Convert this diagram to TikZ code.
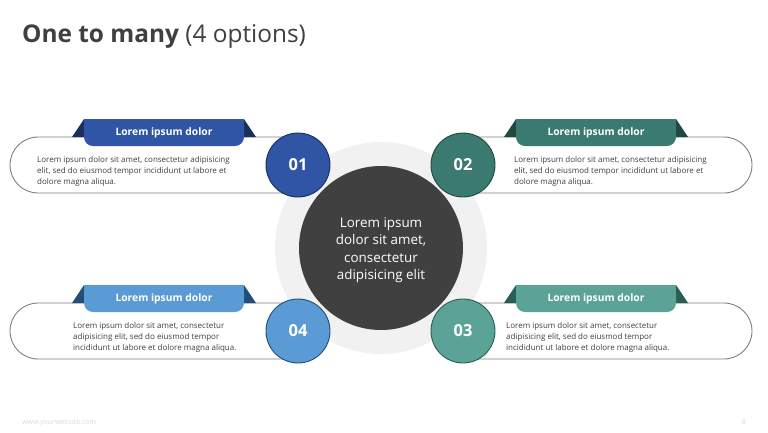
\documentclass[tikz,border=0pt]{standalone}
\usepackage{fontspec}
\setmainfont{Open Sans}
\definecolor{cA}{HTML}{2F55A4}\definecolor{cAd}{HTML}{1B2F5E}
\definecolor{cB}{HTML}{3B7A70}\definecolor{cBd}{HTML}{1F4A42}
\definecolor{cC}{HTML}{5BA397}\definecolor{cCd}{HTML}{275E55}
\definecolor{cD}{HTML}{5B9BD5}\definecolor{cDd}{HTML}{1F4E79}
\definecolor{hubc}{HTML}{404040}
\definecolor{ringc}{HTML}{F1F1F1}
\definecolor{txtc}{HTML}{404040}
\definecolor{linec}{HTML}{7F7F7F}
\tikzset{
  pill/.style={draw=linec, line width=0.9pt, fill=white, rounded corners=28},
  numc/.style={circle, minimum size=64, inner sep=0, line width=0.9pt, text=white, font=\fontsize{16.5}{16.5}\selectfont\bfseries},
  bantext/.style={text=white, font=\fontsize{10.3}{11}\selectfont\bfseries},
  body/.style={text=txtc, font=\fontsize{8}{11}\selectfont, align=left, anchor=west, inner sep=0},
  foot/.style={inner sep=0, text=black!15, font=\fontsize{7}{7}\selectfont},
}
\begin{document}
\begin{tikzpicture}[x=1pt,y=-1pt]
\useasboundingbox (0,0) rectangle (768,432);
% title
\node[anchor=base west, inner sep=0, text=hubc, font=\fontsize{24.4}{24.4}\selectfont] (title) at (22,42) {\textbf{One to many} (4 options)};
% footer
\node[foot, anchor=base west] (web) at (22,424) {www.yourwebsite.com};
\node[foot, anchor=base east] (pg) at (746,424) {8};
% boxes
\draw[pill] (10,137) rectangle (320,193); \coordinate (box1) at (165,165);
\draw[pill] (443,137) rectangle (752,193); \coordinate (box2) at (600,165);
\draw[pill] (10,303) rectangle (320,359); \coordinate (box4) at (165,331);
\draw[pill] (443,303) rectangle (752,359); \coordinate (box3) at (600,331);
% banners
\foreach \x/\y/\c/\d/\nm in {84/119/cA/cAd/b1, 516/119/cB/cBd/b2, 84/285/cD/cDd/b4, 516/285/cC/cCd/b3}{
  \fill[\d] (\x,\y) -- (\x-12,\y+18) -- (\x,\y+18) -- cycle;
  \fill[\d] (\x+160,\y) -- (\x+172,\y+18) -- (\x+160,\y+18) -- cycle;
  \fill[\c, rounded corners=9] (\x,\y) rectangle (\x+160,\y+27);
  \fill[\c] (\x,\y) rectangle (\x+160,\y+12);
  \node[bantext] (\nm) at (\x+80,\y+13.5) {Lorem ipsum dolor};
}
% body texts
\node[body] (t1) at (37,171.5) {Lorem ipsum dolor sit amet, consectetur adipisicing\\elit, sed do eiusmod tempor incididunt ut labore et\\dolore magna aliqua.};
\node[body] (t2) at (514,171.5) {Lorem ipsum dolor sit amet, consectetur adipisicing\\elit, sed do eiusmod tempor incididunt ut labore et\\dolore magna aliqua.};
\node[body] (t4) at (73,337.5) {Lorem ipsum dolor sit amet, consectetur\\adipisicing elit, sed do eiusmod tempor\\incididunt ut labore et dolore magna aliqua.};
\node[body] (t3) at (506,337.5) {Lorem ipsum dolor sit amet, consectetur\\adipisicing elit, sed do eiusmod tempor\\incididunt ut labore et dolore magna aliqua.};
% ring and hub
\fill[ringc] (381,248) circle (106); \coordinate (ring) at (381,248);
\node[circle, fill=hubc, minimum size=164, inner sep=0] (hub) at (381,248) {};
\node[text=white, align=center, inner sep=0,
      font=\fontsize{13.4}{17.5}\selectfont] (hubtext) at (381,250)
      {Lorem ipsum\\dolor sit amet,\\consectetur\\adipisicing elit};
% number circles
\node[numc, fill=cA, draw=cAd] (n1) at (298,165) {01};
\node[numc, fill=cB, draw=cBd] (n2) at (463,165) {02};
\node[numc, fill=cD, draw=cDd] (n4) at (298,331) {04};
\node[numc, fill=cC, draw=cCd] (n3) at (463,331) {03};
\end{tikzpicture}
\end{document}
